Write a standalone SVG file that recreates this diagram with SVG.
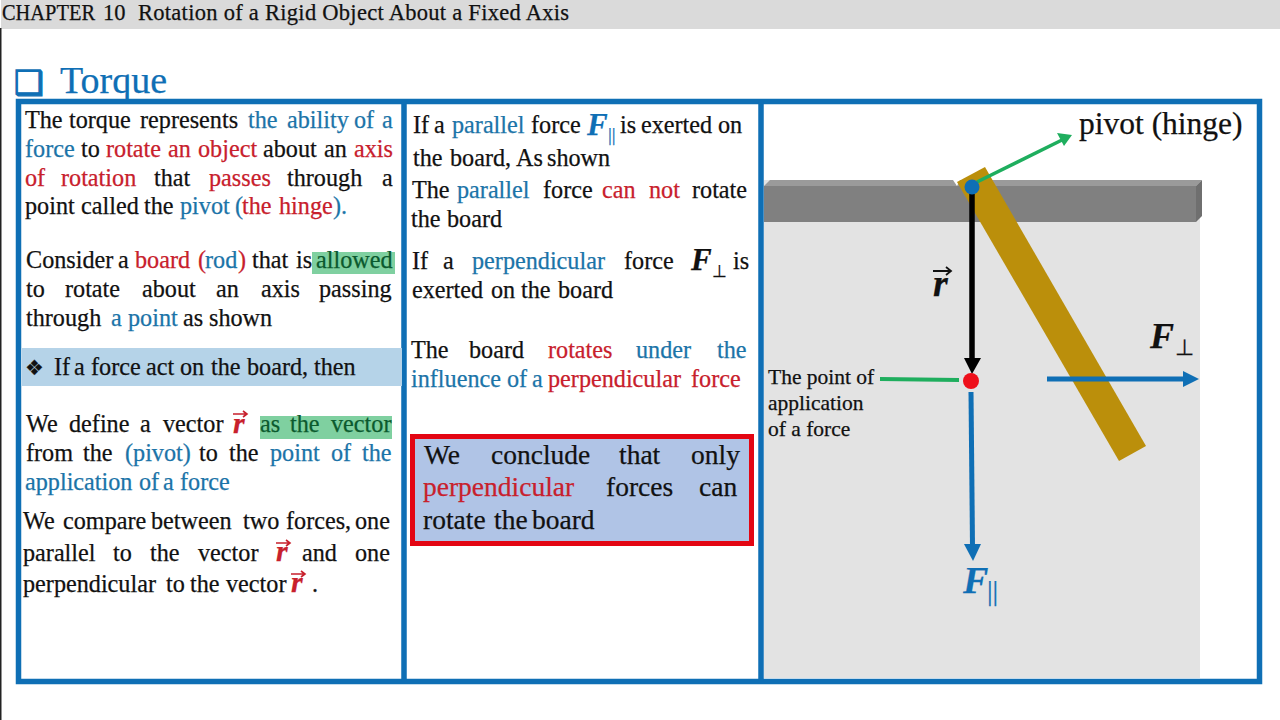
<svg xmlns="http://www.w3.org/2000/svg" width="1280" height="720" viewBox="0 0 1280 720">
<style>
text{font-family:"Liberation Serif","Noto Serif",serif;color:#111;fill:currentColor;stroke:currentColor;stroke-width:.25;font-size:24.2px}
.b{color:#1b74a8}.r{color:#c8202c}.g{color:#0b5a2e}
.vec{font-weight:bold;font-style:italic;color:#c8202c;font-size:30px}
.F{font-weight:bold;font-style:italic;font-size:38px}
.f{font-weight:bold;font-style:italic;font-size:31px}
.blue{color:#0f6fb5}
.sym{font-family:"DejaVu Sans",sans-serif}
.big{font-size:27.5px}
.sm{font-size:21.5px}
.frame{fill:none;stroke:#0f6fb5;stroke-width:5.5}
.arr{fill:none;stroke:#0f6fb5;stroke-width:5}
</style>
<defs>
<path id="va" d="M0 0H14M10 -3L14 0L10 3" fill="none" stroke="#c8202c" stroke-width="1.6"/>
</defs>
<rect width="1280" height="720" fill="#fff"/>
<rect x="1" width="1279" height="29" fill="#dadada"/>
<rect x="0" y="28" width="1.5" height="692" fill="#222"/>
<g id="chapter">
<text x="2" y="20" style="font-size:22.5px" textLength="93" lengthAdjust="spacingAndGlyphs">CHAPTER</text>
<text x="103" y="20" style="font-size:22.5px">10</text>
<text x="138" y="20" style="font-size:22.5px" textLength="431" lengthAdjust="spacing">Rotation of a Rigid Object About a Fixed Axis</text>
</g>
<g id="heading">
<text x="14" y="94" class="sym blue" style="font-size:33px;stroke-width:1.2">❑</text>
<text x="60" y="93" class="blue" style="font-size:38px">Torque</text>
</g>

<g id="panel-figure">
<rect x="764" y="180" width="436" height="498" fill="#e3e3e3"/>
<rect x="764" y="186" width="432" height="36" fill="#808080"/>
<path d="M764 186L770 180H1202L1196 186Z" fill="#9a9a9a"/>
<path d="M1196 186L1202 180V216L1196 222Z" fill="#6f6f6f"/>
<path d="M953 180L957 186L960 180Z" fill="#fff"/>
<path d="M957 182L985 167L1146 446L1119 461Z" fill="#bb8f0b"/>
</g>

<g id="frame">
<rect class="frame" x="18.5" y="101.5" width="1241" height="580"/>
<path class="frame" d="M404 101V681M761 101V681"/>
</g>

<g id="text-left">
<text y="128"><tspan x="25">The</tspan> <tspan x="69">torque</tspan> <tspan x="140">represents</tspan> <tspan x="248" class="b">the</tspan> <tspan x="287" class="b">ability</tspan> <tspan x="354" class="b">of</tspan> <tspan x="382" class="b">a</tspan></text>
<text y="157"><tspan x="25" class="b">force</tspan> <tspan x="81">to</tspan> <tspan x="106" class="r">rotate</tspan> <tspan x="168" class="r">an</tspan> <tspan x="198" class="r">object</tspan> <tspan x="263">about</tspan> <tspan x="324">an</tspan> <tspan x="354" class="r">axis</tspan></text>
<text y="186"><tspan x="25" class="r">of</tspan> <tspan x="61" class="r">rotation</tspan> <tspan x="154">that</tspan> <tspan x="209" class="r">passes</tspan> <tspan x="287">through</tspan> <tspan x="382">a</tspan></text>
<text y="214"><tspan x="25">point</tspan> <tspan x="81">called</tspan> <tspan x="144">the</tspan> <tspan x="180" class="b">pivot</tspan> <tspan x="235" class="b">(</tspan><tspan x="242" class="r">the</tspan> <tspan x="279" class="r">hinge</tspan><tspan x="333" class="b">).</tspan></text>
<rect x="312" y="252" width="83" height="22" fill="#7fd0a0"/>
<text y="268"><tspan x="26">Consider</tspan> <tspan x="118">a</tspan> <tspan x="135" class="r">board</tspan> <tspan x="198" class="r">(</tspan><tspan x="205" class="b">rod</tspan><tspan x="238" class="r">)</tspan> <tspan x="252">that</tspan> <tspan x="296">is</tspan> <tspan x="316" class="g">allowed</tspan></text>
<text y="297"><tspan x="26">to</tspan> <tspan x="65">rotate</tspan> <tspan x="142">about</tspan> <tspan x="216">an</tspan> <tspan x="261">axis</tspan> <tspan x="319">passing</tspan></text>
<text y="326"><tspan x="26">through</tspan> <tspan x="111" class="b">a</tspan> <tspan x="128" class="b">point</tspan> <tspan x="183">as</tspan> <tspan x="209">shown</tspan></text>
<rect x="22" y="348" width="380" height="38" fill="#b5d3e8"/>
<text y="375"><tspan x="25" class="sym" style="font-size:21px">❖</tspan> <tspan x="54">If</tspan> <tspan x="74">a</tspan> <tspan x="91">force</tspan> <tspan x="146">act</tspan> <tspan x="180">on</tspan> <tspan x="211">the</tspan> <tspan x="247">board,</tspan> <tspan x="314">then</tspan></text>
<rect x="260" y="416" width="132" height="23" fill="#7fd0a0"/>
<text y="432"><tspan x="26">We</tspan> <tspan x="69">define</tspan> <tspan x="140">a</tspan> <tspan x="163">vector</tspan> <tspan x="233" y="433" class="vec">r</tspan> <tspan x="260" y="432" class="g">as</tspan> <tspan x="290" class="g">the</tspan> <tspan x="331" class="g">vector</tspan></text>
<use href="#va" x="233" y="414"/>
<text y="461"><tspan x="26">from</tspan> <tspan x="83">the</tspan> <tspan x="125" class="b">(pivot)</tspan> <tspan x="199">to</tspan> <tspan x="229">the</tspan> <tspan x="270" class="b">point</tspan> <tspan x="331" class="b">of</tspan> <tspan x="362" class="b">the</tspan></text>
<text y="490"><tspan x="25" class="b">application</tspan> <tspan x="139" class="b">of</tspan> <tspan x="163" class="b">a</tspan> <tspan x="180" class="b">force</tspan></text>
<text y="529"><tspan x="23">We</tspan> <tspan x="63">compare</tspan> <tspan x="151">between</tspan> <tspan x="243">two</tspan> <tspan x="286">forces,</tspan> <tspan x="355">one</tspan></text>
<text y="561"><tspan x="23">parallel</tspan> <tspan x="113">to</tspan> <tspan x="150">the</tspan> <tspan x="198">vector</tspan> <tspan x="276" class="vec">r</tspan> <tspan x="302">and</tspan> <tspan x="355">one</tspan></text>
<use href="#va" x="276" y="543"/>
<text y="592"><tspan x="23">perpendicular</tspan> <tspan x="166">to</tspan> <tspan x="190">the</tspan> <tspan x="226">vector</tspan> <tspan x="291" class="vec">r</tspan> <tspan x="312">.</tspan></text>
<use href="#va" x="291" y="574"/>
</g>

<g id="text-middle">
<text y="133"><tspan x="413">If</tspan> <tspan x="434">a</tspan> <tspan x="452" class="b">parallel</tspan> <tspan x="531">force</tspan> <tspan x="587" y="135" class="f blue">F</tspan><tspan x="608" y="141" class="blue" style="font-size:19px">||</tspan> <tspan x="620" y="133">is</tspan> <tspan x="641">exerted</tspan> <tspan x="718">on</tspan></text>
<text y="166"><tspan x="413">the</tspan> <tspan x="450">board,</tspan> <tspan x="516">As</tspan> <tspan x="547">shown</tspan></text>
<text y="198"><tspan x="412">The</tspan> <tspan x="457" class="b">parallel</tspan> <tspan x="543">force</tspan> <tspan x="602" class="r">can</tspan> <tspan x="649" class="r">not</tspan> <tspan x="692">rotate</tspan></text>
<text y="227"><tspan x="411">the</tspan> <tspan x="447">board</tspan></text>
<text y="269"><tspan x="412">If</tspan> <tspan x="443">a</tspan> <tspan x="472" class="b">perpendicular</tspan> <tspan x="624">force</tspan> <tspan x="691" y="270" class="f">F</tspan><tspan x="712" y="277" style="font-size:17px">⊥</tspan> <tspan x="733" y="269">is</tspan></text>
<text y="298"><tspan x="412">exerted</tspan> <tspan x="491">on</tspan> <tspan x="521">the</tspan> <tspan x="558">board</tspan></text>
<text y="358"><tspan x="411">The</tspan> <tspan x="469">board</tspan> <tspan x="548" class="r">rotates</tspan> <tspan x="636" class="b">under</tspan> <tspan x="717" class="b">the</tspan></text>
<text y="387"><tspan x="411" class="b">influence</tspan> <tspan x="507" class="b">of</tspan> <tspan x="532" class="b">a</tspan> <tspan x="548" class="r">perpendicular</tspan> <tspan x="691" class="r">force</tspan></text>
</g>

<g id="conclusion">
<rect x="412.5" y="436.5" width="339" height="107" fill="#b0c4e6" stroke="#e30613" stroke-width="5"/>
<text y="464" class="big"><tspan x="424">We</tspan> <tspan x="491">conclude</tspan> <tspan x="619">that</tspan> <tspan x="691">only</tspan></text>
<text y="496" class="big"><tspan x="423" class="r">perpendicular</tspan> <tspan x="606">forces</tspan> <tspan x="699">can</tspan></text>
<text y="529" class="big"><tspan x="423">rotate</tspan> <tspan x="494">the</tspan> <tspan x="532">board</tspan></text>
</g>

<g id="connectors">
<path d="M977 182L1064 139" stroke="#1fae5e" stroke-width="3.5" fill="none"/>
<path d="M1072 135L1064 146L1057 133Z" fill="#1fae5e"/>
<path d="M880 379L959 380" stroke="#1fae5e" stroke-width="4" fill="none"/>
<path d="M972 190V360" stroke="#000" stroke-width="5.5" fill="none"/>
<path d="M964 358H981L972 374Z" fill="#000"/>
<path class="arr" d="M971 392L972.5 546"/>
<path d="M964 544H981L973 561Z" fill="#0f6fb5"/>
<path class="arr" d="M1047 379H1185"/>
<path d="M1183 371L1199 379L1183 387Z" fill="#0f6fb5"/>
</g>

<g id="pivot"><circle cx="972" cy="187" r="7.5" fill="#0f6fb5"/></g>
<g id="application-point"><circle cx="971" cy="381" r="8" fill="#ee0f1a"/></g>

<g id="labels">
<text x="1079" y="134" style="font-size:31.5px">pivot (hinge)</text>
<text x="933" y="296" class="F">r</text>
<path d="M933 271H951M946 267L951 271L946 275" fill="none" stroke="#111" stroke-width="1.8"/>
<text x="1150" y="348" class="F" style="font-size:36px">F</text>
<text x="1175" y="355" style="font-size:22px">⊥</text>
<text x="963" y="593" class="F blue">F</text>
<text x="987" y="600" class="blue" style="font-size:28px">||</text>
<text class="sm" x="768" y="384">The point of</text>
<text class="sm" x="768" y="410">application</text>
<text class="sm" x="768" y="436">of a force</text>
</g>
</svg>
